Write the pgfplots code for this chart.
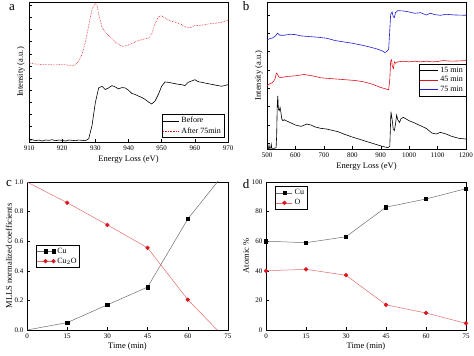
\documentclass[border=0pt]{standalone}
\usepackage{pgfplots}
\pgfplotsset{compat=1.18}
\usepackage{fontspec}
\setmainfont{Liberation Serif}
\definecolor{myred}{RGB}{220,20,30}
\definecolor{myblue}{RGB}{30,30,215}
\definecolor{lred}{RGB}{225,110,110}
\definecolor{lgray}{RGB}{110,110,110}
\pgfplotsset{
  base/.style={scale only axis, anchor=south west,
    tick align=inside, xtick pos=left, ytick pos=left,
    tick style={black, line width=0.4pt, major tick length=3pt},
    ticklabel style={font=\fontsize{7}{8}\selectfont},
    /pgf/number format/assume math mode=true,
    label style={font=\fontsize{8.5}{10}\selectfont},
    legend style={font=\fontsize{8}{9}\selectfont, draw=black, line width=0.4pt, inner sep=1pt, row sep=-1pt, legend cell align=left},
    axis line style={line width=0.5pt},
  }
}
\begin{document}
\begin{tikzpicture}
\useasboundingbox (0pt,0pt) rectangle (474pt,356pt);
% ---------- a ----------
\begin{axis}[base, at={(29pt,214pt)}, width=199pt, height=140pt,
  xmin=910, xmax=970, ymin=0, ymax=427,
  xtick={910,920,...,970}, ytick={10,47,84,121,158,195,232,269,306,343,380,417}, yticklabels={},
  xlabel={Energy Loss (eV)}, ylabel={Intensity (a.u.)},
  xlabel style={yshift=2pt}, ylabel style={yshift=-6pt},
  legend style={at={(0.98,0.03)}, anchor=south east},
  legend image code/.code={\draw[#1] (0pt,0pt) -- (16pt,0pt);}]
\addplot[black, line width=0.6pt] coordinates {
(910,5)(911,7)(912,4)(913,6)(914,3)(915,6)(916,5)(917,7)(918,4)(919,6)(920,5)(921,3)(922,6)(923,5)(924,4)(925,6)(926,5)(927,4)(928,10)(929,50)(930,120)(931,165)(932,170)(933,160)(934,165)(935,172)(936,168)(937,162)(938,166)(939,165)(940,158)(941,148)(942,145)(943,140)(944,136)(945,130)(946,122)(947,116)(948,125)(949,145)(950,170)(951,183)(952,182)(953,180)(954,178)(955,176)(956,175)(957,172)(958,182)(959,186)(960,190)(961,184)(962,182)(963,180)(964,178)(965,176)(966,174)(967,172)(968,170)(969,172)(970,175)};
\addlegendentry{Before}
\addplot[myred, densely dotted, line width=0.6pt] coordinates {
(910,240)(912,238)(914,236)(916,236)(918,235)(920,237)(922,234)(923,232)(924,236)(925,248)(926,268)(927,305)(928,355)(929,405)(930,422)(930.5,418)(931,390)(932,350)(933,335)(934,325)(935,315)(936,305)(937,298)(938,292)(939,293)(940,296)(941,300)(942,305)(943,310)(944,312)(945,315)(946,316)(947,330)(948,360)(949,382)(950,385)(951,378)(952,372)(953,368)(954,366)(955,362)(956,358)(957,352)(958,348)(959,350)(960,355)(962,356)(964,360)(966,362)(968,365)(970,372)};
\addlegendentry{After 75min}
\end{axis}
\node[font=\fontsize{13}{14}\selectfont] at (12pt,348pt) {a};
% ---------- b ----------
\begin{axis}[base, at={(267pt,207pt)}, width=199pt, height=147pt,
  xmin=500, xmax=1200, ymin=0, ymax=442,
  xtick={500,600,...,1200}, ytick={18,73,128,183,238,293,348,403}, yticklabels={},
  xticklabel style={/pgf/number format/1000 sep={}},
  xlabel={Energy Loss (eV)}, ylabel={Intensity (a.u.)},
  xlabel style={yshift=2pt}, ylabel style={yshift=-6pt},
  legend style={at={(1,0.47)}, anchor=east},
  legend image code/.code={\draw[#1] (0pt,0pt) -- (18pt,0pt);}]
\addplot[black, line width=0.6pt] coordinates {
(500,2)(505,1)(507,12)(509,2)(513,3)(515,14)(517,2)(525,2)(532,4)(534,40)(536,130)(538,160)(540,120)(543,115)(546,125)(549,110)(552,90)(556,85)(560,88)(570,84)(580,80)(600,72)(620,68)(640,75)(655,72)(670,66)(690,62)(710,60)(730,56)(750,52)(770,45)(800,36)(830,28)(860,20)(890,12)(910,7)(925,4)(932,8)(936,112)(940,90)(944,60)(948,55)(952,75)(956,102)(960,88)(966,80)(972,92)(980,95)(990,90)(1000,85)(1020,78)(1040,70)(1060,62)(1080,48)(1095,45)(1110,50)(1130,45)(1150,38)(1175,32)(1200,30)};
\addlegendentry{15 min}
\addplot[myred, line width=0.6pt] coordinates {
(500,190)(510,196)(520,200)(528,210)(533,228)(537,225)(542,216)(550,215)(570,218)(600,220)(630,224)(660,220)(690,214)(720,212)(750,210)(780,208)(810,206)(840,202)(870,195)(900,185)(920,180)(928,178)(932,210)(935,265)(938,268)(941,248)(945,242)(948,262)(952,258)(960,262)(980,264)(1000,262)(1020,264)(1040,262)(1060,264)(1080,262)(1100,263)(1120,266)(1150,264)(1180,265)(1200,266)};
\addlegendentry{45 min}
\addplot[myblue, line width=0.6pt] coordinates {
(500,328)(510,332)(520,334)(530,340)(537,348)(545,342)(560,342)(580,345)(600,344)(620,340)(650,338)(680,336)(710,333)(740,326)(770,322)(800,318)(830,313)(860,307)(890,300)(905,295)(915,290)(922,294)(928,300)(932,360)(935,405)(940,412)(944,398)(948,395)(952,410)(960,416)(980,415)(1000,412)(1020,408)(1040,410)(1060,403)(1075,408)(1090,404)(1110,402)(1130,405)(1160,403)(1200,402)};
\addlegendentry{75 min}
\end{axis}
\node[font=\fontsize{13}{14}\selectfont] at (246pt,350pt) {b};
% ---------- c ----------
\begin{axis}[base, at={(27pt,26pt)}, width=201pt, height=148pt,
  xmin=0, xmax=75, ymin=0, ymax=1,
  xtick={0,15,...,75}, ytick={0,0.2,...,1.0},
  yticklabel style={/pgf/number format/.cd, fixed, fixed zerofill, precision=1},
  xlabel={Time (min)}, ylabel={MLLS normalized coefficients},
  xlabel style={yshift=3pt}, ylabel style={yshift=-4pt},
  legend style={at={(0.045,0.42)}, anchor=south west},
  legend image code/.code={\draw[#1,mark repeat=2,mark phase=2] plot coordinates {(0pt,0pt) (8pt,0pt) (16pt,0pt)};}]
\addplot[lgray, line width=0.5pt, mark=square*, mark size=1.7pt, mark options={black}, mark indices={2,3,4,5}] coordinates {
(0,0)(15,0.05)(30,0.17)(45,0.29)(60,0.75)(75,1.09)};
\addlegendentry{Cu}
\addplot[lred, line width=0.5pt, mark=*, mark size=1.9pt, mark options={myred}, mark indices={2,3,4,5}] coordinates {
(0,1.0)(15,0.86)(30,0.71)(45,0.555)(60,0.205)(75,-0.075)};
\addlegendentry{Cu$_2$O}
\end{axis}
\node[font=\fontsize{13}{14}\selectfont] at (9pt,172pt) {c};
% ---------- d ----------
\begin{axis}[base, at={(266pt,26pt)}, width=200pt, height=148pt,
  xmin=0, xmax=75, ymin=0, ymax=100,
  xtick={0,15,...,75}, ytick={0,20,...,100},
  xlabel={Time (min)}, ylabel={Atomic \%},
  xlabel style={yshift=3pt}, ylabel style={yshift=-4pt},
  legend style={at={(0.045,0.97)}, anchor=north west},
  legend image code/.code={\draw[#1,mark repeat=2,mark phase=2] plot coordinates {(0pt,0pt) (8pt,0pt) (16pt,0pt)};}]
\addplot[lgray, line width=0.5pt, mark=square*, mark size=1.7pt, mark options={black}] coordinates {
(0,60)(15,59)(30,63)(45,83)(60,88.5)(75,95.5)};
\addlegendentry{Cu}
\addplot[lred, line width=0.5pt, mark=*, mark size=1.9pt, mark options={myred}] coordinates {
(0,40)(15,41)(30,37)(45,17)(60,11.5)(75,4.5)};
\addlegendentry{O}
\end{axis}
\node[font=\fontsize{13}{14}\selectfont] at (246pt,172pt) {d};
\end{tikzpicture}
\end{document}
